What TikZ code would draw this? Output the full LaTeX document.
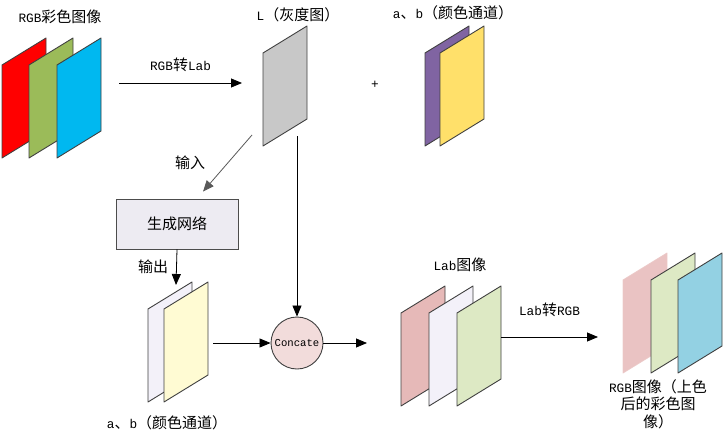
\documentclass[tikz,border=0pt]{standalone}
\usepackage{fontspec}
\setmainfont[Scale=0.85]{Liberation Mono}
\newfontfamily\cjk{Noto Sans CJK SC}
\usepackage{tikz}
\usetikzlibrary{calc,arrows.meta,positioning}

\definecolor{rgbred}{HTML}{FF0000}
\definecolor{rgbgreen}{HTML}{9BBB59}
\definecolor{rgbblue}{HTML}{00B8F0}
\definecolor{grayL}{HTML}{C8C8C8}
\definecolor{chanA}{HTML}{8064A2}
\definecolor{chanB}{HTML}{FFE06A}
\definecolor{labpink}{HTML}{E6B9B8}
\definecolor{lablav}{HTML}{F3F1F9}
\definecolor{labgreen}{HTML}{DDE9C4}
\definecolor{outblue}{HTML}{93D1E3}
\definecolor{outyellow}{HTML}{FFFBD3}
\definecolor{catpink}{HTML}{F2DCDB}
\definecolor{genfill}{HTML}{EDEBF2}

% one colour plane, given by its upper left corner
\newcommand{\plane}[3][]{%
  \filldraw[plane,fill=#3,#1] #2 -- ++(44,-27) -- ++(0,93) -- ++(-44,27) -- cycle;}

\tikzset{
  plane/.style={draw=black!75,line width=0.9pt,line join=round},
  lbl/.style={font=\fontsize{15}{18}\selectfont,inner sep=1pt},
  flow/.style={black,line width=0.8pt,-{Triangle[length=11pt,width=9pt]}},
}

\begin{document}
\begin{tikzpicture}[x=1pt,y=-1pt]
  \useasboundingbox (0,0) rectangle (725,444);

  % RGB input image
  \plane{(2,65)}{rgbred}
  \plane{(29,65)}{rgbgreen}
  \plane{(57,65)}{rgbblue}
  \node[lbl] (rgbtitle) at (60,17) {RGB{\cjk 彩色图像}};

  % L channel
  \plane{(263,53)}{grayL}
  \node[lbl] (ltitle) at (298,15) {L{\cjk （灰度图）}};

  % a, b channels
  \plane{(425,53)}{chanA}
  \plane{(440,53)}{chanB}
  \node[lbl] (abtitle) at (453,13) {a{\cjk 、}b{\cjk （颜色通道）}};
  \node[lbl] (plus) at (375,85) {+};

  \coordinate (rgbout) at (119,83);
  \coordinate (lin) at (242,83);
  \draw[flow] (rgbout) -- (lin) node[lbl,midway,above=10pt] (torgb) {RGB{\cjk 转}Lab};

  % generator
  \node[draw=black!70,line width=0.9pt,fill=genfill,minimum width=122pt,minimum height=50pt,
        font=\cjk\fontsize{15}{18}\selectfont] (gen) at (177,224) {生成网络};
  \coordinate (lfoot) at (252,135);
  \draw[flow,black!65] (lfoot) -- ($(gen.north)+(26,-7)$) coordinate (genin);
  \node[lbl,font=\cjk\fontsize{15}{18}\selectfont] (input) at (190,163) {输入};

  \coordinate (abin) at (176,285);
  \draw[flow] (gen.south) -- (abin);
  \node[lbl,font=\cjk\fontsize{15}{18}\selectfont] (output) at (153,267) {输出};

  % predicted a, b
  \plane{(148,309)}{lablav}
  \plane{(164,309)}{outyellow}
  \node[lbl] (about) at (167,423) {a{\cjk 、}b{\cjk （颜色通道）}};

  % concatenation
  \node[circle,draw=black!75,line width=0.9pt,fill=catpink,minimum size=52pt,inner sep=0pt,
        font=\fontsize{12.5}{14}\selectfont] (cat) at (297,343) {Concate};
  \coordinate (lbot) at (297,136);
  \draw[flow] (lbot) -- (cat.north);
  \coordinate (abright) at (213,343);
  \draw[flow] (abright) -- (cat.west);
  \coordinate (labin) at (367,343);
  \draw[flow] (cat.east) -- (labin);

  % Lab image
  \plane{(401,313)}{labpink}
  \plane{(429,313)}{lablav}
  \plane{(457,313)}{labgreen}
  \node[lbl] (labtitle) at (460,265) {Lab{\cjk 图像}};

  \coordinate (labout) at (501,337);
  \coordinate (resin) at (598,337);
  \draw[flow] (labout) -- (resin) node[lbl,midway,above=19pt] (tolab) {Lab{\cjk 转}RGB};

  % colourised RGB image
  \plane[draw=labpink!80,opacity=0.85]{(623,280)}{labpink}
  \plane{(651,280)}{labgreen}
  \plane{(678,280)}{outblue}
  \node[lbl,align=center,font=\fontsize{15}{17.5}\selectfont] (restitle) at (658,404)
    {RGB{\cjk 图像（上色}\\{\cjk 后的彩色图}\\{\cjk 像）}};

\end{tikzpicture}
\end{document}
